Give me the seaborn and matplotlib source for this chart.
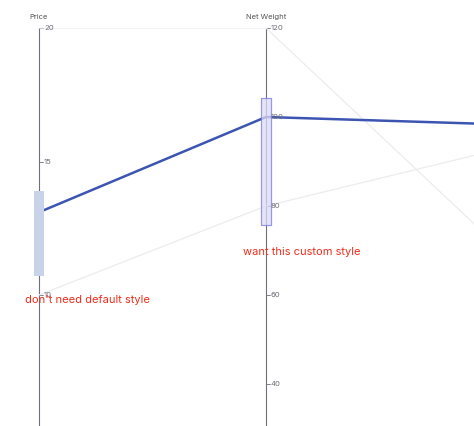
import numpy as np
import pandas as pd
import matplotlib
matplotlib.use("Agg")
import matplotlib.pyplot as plt
import seaborn as sns

# dimensions of the parallel chart (third one is cut off at the right edge)
dims = ['Price', 'Net Weight', '']
dim_max = [20, 120, 100]
dim_ticks = [[10, 15, 20], [40, 60, 80, 100, 120], []]

# one list per item, values per dimension
highlight_vals = [13.1, 100, 82]
faded_a_vals = [10, 80, 77]
faded_b_vals = [20, 120, 60]

# brush ranges (in axis units)
price_brush = [10.7, 13.9]
weight_brush = [75.7, 104.2]

notes = ["don't need default style", "want this custom style"]


def to_long(vals, name):
    rows = []
    for i, (d, v) in enumerate(zip(dims, vals)):
        rows.append({'line': name, 'pos': i, 'dim': d, 'norm': v / dim_max[i]})
    return pd.DataFrame(rows)


df_faded = pd.concat([to_long(faded_a_vals, 'a'), to_long(faded_b_vals, 'b')])
df_high = to_long(highlight_vals, 'h')

sns.set_style('white')
plt.rcParams['font.family'] = ['Inter', 'DejaVu Sans']

fig = plt.figure(figsize=(4.74, 4.26), dpi=100)
# axes is taller than the figure: the chart is cropped at the bottom
ax = fig.add_axes([0, 1 - 562 / 426, 1, 534 / 426])
ax.set_xlim(-39 / 227, 435 / 227)
ax.set_ylim(0, 1)
ax.axis('off')

axis_col = '#6e7079'
for i in range(len(dims)):
    ax.plot([i, i], [0, 1], color=axis_col, lw=0.8, zorder=1)
    for t in dim_ticks[i]:
        yv = t / dim_max[i]
        ax.plot([i, i + 0.016], [yv, yv], color=axis_col, lw=0.6, zorder=1)
        ax.text(i + 0.022, yv, str(t), fontsize=5.5, color=axis_col,
                va='center', ha='left', zorder=5)
    if dims[i]:
        ax.text(i, 1 + 11 / 534, dims[i], fontsize=5.5, color='#555555',
                ha='center', va='center')

sns.lineplot(data=df_faded, x='pos', y='norm', units='line', estimator=None,
             color='#ececef', lw=0.9, ax=ax, zorder=2, legend=False)
sns.lineplot(data=df_high, x='pos', y='norm', units='line', estimator=None,
             color='#3d55b2', lw=1.8, ax=ax, zorder=3, legend=False)

# brushes
bw = 0.0235
lo, hi = price_brush[0] / dim_max[0], price_brush[1] / dim_max[0]
ax.fill_between([-bw, bw], lo, hi, color='#c8d3ea', lw=0, zorder=4)
lo, hi = weight_brush[0] / dim_max[1], weight_brush[1] / dim_max[1]
ax.fill_between([1 - bw, 1 + bw], lo, hi, facecolor='#dcdcf6', alpha=0.75,
                edgecolor='#7a7ade', lw=0.9, zorder=4)

ax.set_xlabel('')
ax.set_ylabel('')

fig.text(25 / 474, 1 - 300 / 426, notes[0], color='#ee2d1c', fontsize=8.0,
         ha='left', va='center')
fig.text(243 / 474, 1 - 252 / 426, notes[1], color='#ee2d1c', fontsize=8.0,
         ha='left', va='center')

fig.savefig('out.png', dpi=100)
